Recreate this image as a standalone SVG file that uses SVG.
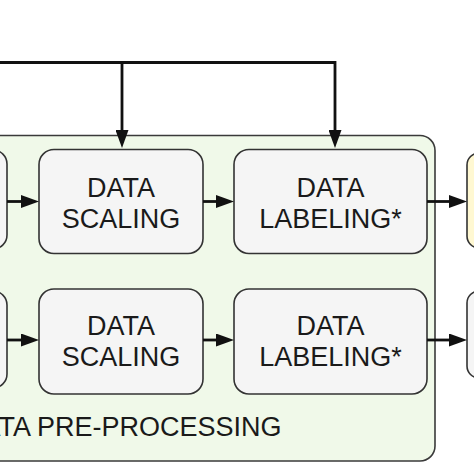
<svg xmlns="http://www.w3.org/2000/svg" width="474" height="474" viewBox="0 0 474 474">
  <defs>
    <style>
      .container { fill: #F0F9E9; stroke: #3a3a3a; stroke-width: 1.6; }
      .box { fill: #F5F5F5; stroke: #333333; stroke-width: 1.6; }
      .box-yellow { fill: #FFF8D2; stroke: #333333; stroke-width: 1.6; }
      .label { font-family: "Liberation Sans", Arial, sans-serif; font-size: 27px; fill: #1a1a1a; text-anchor: middle; }
      .title { font-family: "Liberation Sans", Arial, sans-serif; font-size: 27px; fill: #1a1a1a; }
      .conn { fill: none; stroke: #111111; stroke-width: 2.8; }
    </style>
    <marker id="arrow" viewBox="0 0 18 13" refX="7" refY="6.5" markerWidth="18" markerHeight="13" markerUnits="userSpaceOnUse" orient="auto">
      <path d="M0,0 L18,6.5 L0,13 z" fill="#111111"/>
    </marker>
  </defs>
  <rect width="474" height="474" fill="#FFFFFF"/>

  <g id="pre-processing">
    <rect class="container" x="-20" y="135.5" width="455" height="325.5" rx="15" ry="15"/>
    <text class="title" x="-37" y="436">DATA PRE-PROCESSING</text>
  </g>

  <g id="left-top">
    <rect class="box" x="-100" y="150" width="107" height="99" rx="14" ry="14"/>
  </g>
  <g id="left-bottom">
    <rect class="box" x="-100" y="291" width="107" height="97" rx="14" ry="14"/>
  </g>

  <g id="scaling-top">
    <rect class="box" x="39" y="149.5" width="164" height="104" rx="15" ry="15"/>
    <text class="label" x="121" y="197">DATA</text>
    <text class="label" x="121" y="228">SCALING</text>
  </g>
  <g id="labeling-top">
    <rect class="box" x="234" y="149.5" width="193" height="104" rx="15" ry="15"/>
    <text class="label" x="330.5" y="197">DATA</text>
    <text class="label" x="330.5" y="228">LABELING*</text>
  </g>

  <g id="scaling-bottom">
    <rect class="box" x="39" y="289" width="164" height="105" rx="15" ry="15"/>
    <text class="label" x="121" y="335">DATA</text>
    <text class="label" x="121" y="366">SCALING</text>
  </g>
  <g id="labeling-bottom">
    <rect class="box" x="234" y="289" width="193" height="105" rx="15" ry="15"/>
    <text class="label" x="330.5" y="335">DATA</text>
    <text class="label" x="330.5" y="366">LABELING*</text>
  </g>

  <g id="right-top">
    <rect class="box-yellow" x="467" y="153" width="100" height="95" rx="12" ry="12"/>
  </g>
  <g id="right-bottom">
    <rect class="box" x="467" y="291" width="100" height="87" rx="12" ry="12"/>
  </g>

  <g id="connectors">
    <path class="conn" d="M-5,62.5 H335 V137" marker-end="url(#arrow)"/>
    <path class="conn" d="M122,62.5 V137" marker-end="url(#arrow)"/>
    <path class="conn" d="M7,201.5 H28" marker-end="url(#arrow)"/>
    <path class="conn" d="M203,201.5 H223" marker-end="url(#arrow)"/>
    <path class="conn" d="M427,201.5 H456" marker-end="url(#arrow)"/>
    <path class="conn" d="M7,340 H28" marker-end="url(#arrow)"/>
    <path class="conn" d="M203,340 H223" marker-end="url(#arrow)"/>
    <path class="conn" d="M427,340 H456" marker-end="url(#arrow)"/>
  </g>
</svg>
